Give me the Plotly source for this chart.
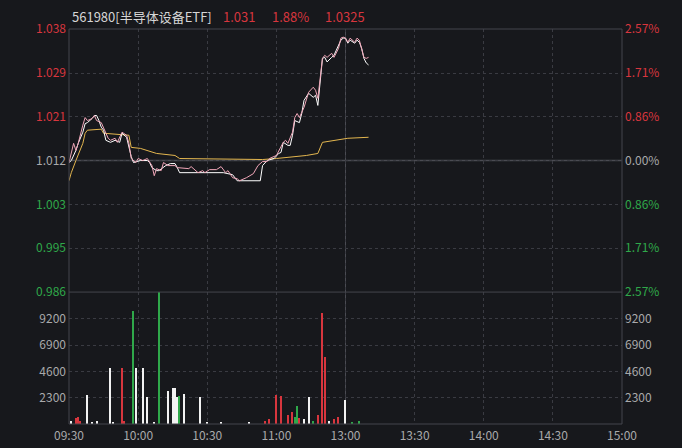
import plotly.graph_objects as go

BG = "#17181c"
GRID = "#3a3b42"
FRAME = "#44454c"
RED = "#d8363e"
GREEN = "#2fa84a"
GRAY = "#a9a9ab"
FONT = "Noto Sans CJK SC"

PREV_CLOSE = 1.012
PCT_TICKS = [-2.57, -1.71, -0.86, 0.0, 0.86, 1.71, 2.57]
VOL_TICKS = [2300, 4600, 6900, 9200]
TIME_LABELS = ["09:30", "10:00", "10:30", "11:00", "13:00", "13:30", "14:00", "14:30", "15:00"]

# price line (white)
price_t = ["09:30", "09:31", "09:33", "09:34", "09:36", "09:37", "09:38", "09:40", "09:41", "09:42",
           "09:43", "09:44", "09:45", "09:46", "09:48", "09:50", "09:52", "09:53", "09:55", "09:56",
           "09:57", "09:58", "10:01", "10:04", "10:05", "10:06", "10:08", "10:09", "10:10", "10:12",
           "10:14", "10:16", "10:17", "10:18", "10:37", "10:39", "10:41", "10:43", "10:53", "10:54",
           "10:56", "10:59", "11:01", "11:02", "11:03", "11:05", "11:06", "11:07", "11:08", "11:10",
           "11:11", "11:12", "11:14", "11:16", "11:17", "11:18", "11:19", "11:20", "11:21", "11:22",
           "11:24", "11:25", "11:26", "11:27", "11:28", "11:29", "11:30", "13:01", "13:02", "13:04",
           "13:05", "13:06", "13:07", "13:08", "13:09", "13:10"]
price_v = [1.0116, 1.0120, 1.0140, 1.0154, 1.0176, 1.0193, 1.0195, 1.0203, 1.0209, 1.0209,
           1.0199, 1.0186, 1.0180, 1.0160, 1.0156, 1.0160, 1.0156, 1.0174, 1.0166, 1.0146,
           1.0128, 1.0116, 1.0120, 1.0120, 1.0116, 1.0106, 1.0100, 1.0100, 1.0104, 1.0110,
           1.0114, 1.0114, 1.0106, 1.0096, 1.0096, 1.0094, 1.0092, 1.0080, 1.0080, 1.0110,
           1.0120, 1.0124, 1.0134, 1.0136, 1.0156, 1.0150, 1.0150, 1.0170, 1.0199, 1.0195,
           1.0213, 1.0239, 1.0253, 1.0245, 1.0249, 1.0229, 1.0269, 1.0322, 1.0324, 1.0315,
           1.0324, 1.0328, 1.0338, 1.0348, 1.0358, 1.0362, 1.0362, 1.0352, 1.0358, 1.0352,
           1.0358, 1.0354, 1.0342, 1.0322, 1.0313, 1.0309]

# second line (pink)
pink_t = ["09:30", "09:31", "09:32", "09:33", "09:34", "09:36", "09:37", "09:38", "09:40", "09:41",
          "09:42", "09:44", "09:45", "09:47", "09:48", "09:50", "09:51", "09:53", "09:55", "09:56",
          "09:57", "09:59", "10:00", "10:02", "10:04", "10:06", "10:07", "10:08", "10:10", "10:11",
          "10:13", "10:16", "10:17", "10:20", "10:22", "10:23", "10:25", "10:26", "10:28", "10:29",
          "10:31", "10:34", "10:36", "10:38", "10:39", "10:41", "10:43", "10:44", "10:47", "10:50",
          "10:52", "10:54", "10:56", "10:57", "11:00", "11:02", "11:03", "11:04", "11:05", "11:07",
          "11:08", "11:09", "11:10", "11:12", "11:14", "11:16", "11:17", "11:18", "11:19", "11:20",
          "11:21", "11:22", "11:24", "11:25", "11:27", "11:28", "11:29", "11:30", "13:01", "13:02",
          "13:04", "13:05", "13:06", "13:07", "13:08", "13:09", "13:10"]
pink_v = [1.0116, 1.0136, 1.0154, 1.0140, 1.0154, 1.0190, 1.0205, 1.0199, 1.0203, 1.0209,
          1.0199, 1.0195, 1.0184, 1.0164, 1.0160, 1.0164, 1.0156, 1.0176, 1.0170, 1.0154,
          1.0124, 1.0116, 1.0124, 1.0120, 1.0124, 1.0110, 1.0090, 1.0104, 1.0100, 1.0116,
          1.0110, 1.0110, 1.0106, 1.0104, 1.0104, 1.0108, 1.0100, 1.0096, 1.0100, 1.0096,
          1.0102, 1.0102, 1.0108, 1.0096, 1.0100, 1.0086, 1.0084, 1.0080, 1.0086, 1.0094,
          1.0110, 1.0118, 1.0118, 1.0124, 1.0130, 1.0146, 1.0156, 1.0160, 1.0154, 1.0176,
          1.0205, 1.0213, 1.0205, 1.0225, 1.0255, 1.0265, 1.0259, 1.0243, 1.0289, 1.0322,
          1.0328, 1.0324, 1.0332, 1.0324, 1.0342, 1.0362, 1.0364, 1.0362, 1.0354, 1.0362,
          1.0354, 1.0362, 1.0358, 1.0342, 1.0324, 1.0322, 1.0324]

# average price (yellow)
avg_t = ["09:30", "09:31", "09:33", "09:36", "09:37", "09:38", "09:44", "09:45", "09:56", "09:57",
         "10:01", "10:04", "10:08", "10:16", "10:18", "10:54", "11:00", "11:13", "11:18", "11:20",
         "13:01", "13:10"]
avg_v = [1.0080, 1.0096, 1.0120, 1.0154, 1.0174, 1.0180, 1.0182, 1.0174, 1.0170, 1.0146,
         1.0144, 1.0140, 1.0134, 1.0130, 1.0124, 1.0122, 1.0124, 1.0130, 1.0134, 1.0156,
         1.0164, 1.0166]

# volume bars
vol_t = ["09:31", "09:33", "09:34", "09:35", "09:38", "09:40", "09:42", "09:48", "09:49", "09:53",
         "09:54", "09:58", "09:59", "10:02", "10:04", "10:07", "10:09", "10:13", "10:15", "10:16",
         "10:17", "10:18", "10:20", "10:27", "10:30", "10:36", "10:48", "10:55", "10:57", "11:00",
         "11:02", "11:05", "11:07", "11:08", "11:09", "11:10", "11:12", "11:14", "11:16", "11:18",
         "11:20", "11:21", "11:23", "11:25", "11:27", "11:30", "13:03", "13:06"]
vol_v = [300, 500, 600, 300, 2540, 200, 300, 4900, 200, 4900,
         300, 9880, 4900, 4900, 2360, 200, 11540, 2890, 3150, 3150,
         2360, 2450, 2620, 2360, 200, 150, 150, 300, 400, 2540,
         2450, 800, 1050, 600, 1570, 500, 400, 2360, 300, 800,
         9710, 5860, 300, 400, 600, 2100, 200, 300]
vol_dir = ["w", "r", "r", "r", "w", "w", "w", "w", "w", "r",
           "r", "g", "w", "w", "w", "w", "g", "w", "w", "w",
           "w", "g", "w", "w", "w", "w", "w", "r", "r", "r",
           "r", "r", "r", "g", "g", "r", "w", "w", "g", "r",
           "r", "r", "w", "r", "r", "w", "g", "g"]


def idx(t):
    h, m = map(int, t.split(":"))
    mins = h * 60 + m
    if mins <= 11 * 60 + 30:
        return mins - (9 * 60 + 30)
    return mins - 13 * 60 + 120


def tone(p):
    return RED if p > 0 else GREEN if p < 0 else GRAY


price_ticks = [PREV_CLOSE * (1 + p / 100) for p in PCT_TICKS]
price_text = [f"<span style='color:{tone(p)}'>{v:.3f}</span>" for p, v in zip(PCT_TICKS, price_ticks)]
pct_text = [f"<span style='color:{tone(p)}'>{abs(p):.2f}%</span>" for p in PCT_TICKS]

bar_colors = {"w": "#f2f2f2", "r": "#d8363e", "g": "#2fa84a"}
vol_x = [idx(t) for t in vol_t]

fig = go.Figure()

fig.add_trace(go.Bar(
    x=vol_x, y=vol_v, width=0.55,
    marker=dict(color=[bar_colors[d] for d in vol_dir], line=dict(width=0)),
    yaxis="y2", hoverinfo="skip",
))
# same bars on the right-hand volume scale, kept invisible (only carries the axis)
fig.add_trace(go.Bar(
    x=vol_x, y=vol_v, width=0.55, opacity=0,
    yaxis="y4", hoverinfo="skip",
))
fig.add_trace(go.Scatter(
    x=[idx(t) for t in avg_t], y=avg_v, mode="lines",
    line=dict(color="#e3b64f", width=1),
))
# pink line drawn on the percentage scale
fig.add_trace(go.Scatter(
    x=[idx(t) for t in pink_t], y=[(v / PREV_CLOSE - 1) * 100 for v in pink_v], mode="lines",
    line=dict(color="#f0a6b8", width=1), yaxis="y3",
))
fig.add_trace(go.Scatter(
    x=[idx(t) for t in price_t], y=price_v, mode="lines",
    line=dict(color="#ffffff", width=1),
))

# solid reference lines: previous close and midday break
fig.add_shape(type="line", xref="paper", x0=0, x1=1, yref="y", y0=PREV_CLOSE, y1=PREV_CLOSE,
              line=dict(color="#4a4b52", width=1.5), layer="below")
fig.add_shape(type="line", xref="x", x0=120, x1=120, yref="paper", y0=0, y1=1,
              line=dict(color="#4a4b52", width=1), layer="below")
fig.add_shape(type="line", xref="paper", x0=0, x1=1, yref="paper", y0=0.334, y1=0.334,
              line=dict(color=FRAME, width=1))
fig.add_shape(type="rect", xref="paper", x0=0, x1=1, yref="paper", y0=0, y1=1,
              line=dict(color=FRAME, width=1))

# header
header = [
    (0.002, "561980[半导体设备ETF]", "#d6d6d6"),
    (0.275, "1.031", RED),
    (0.363, "1.88%", RED),
    (0.459, "1.0325", RED),
]
for x, text, color in header:
    fig.add_annotation(xref="paper", yref="paper", x=x, y=1.031, text=text, showarrow=False,
                       xanchor="left", yanchor="middle", font=dict(color=color, size=13, family=FONT))

axis_common = dict(showline=False, zeroline=False, ticks="", automargin=False,
                   tickfont=dict(size=12, family=FONT, color=GRAY))

fig.update_layout(
    width=682, height=448,
    margin=dict(l=69, r=60, t=29, b=24),
    paper_bgcolor=BG, plot_bgcolor=BG,
    showlegend=False, bargap=0, barmode="overlay",
    font=dict(family=FONT, color=GRAY),
    xaxis=dict(range=[0, 240], tickvals=[idx(t) for t in TIME_LABELS], ticktext=TIME_LABELS,
               anchor="y2", showgrid=True, gridcolor=GRID, griddash="dot",
               ticklabelstandoff=3, **axis_common),
    yaxis=dict(domain=[0.334, 1], range=[price_ticks[0], price_ticks[-1]],
               tickvals=price_ticks, ticktext=price_text, anchor="x", ticklabelstandoff=2,
               showgrid=True, gridcolor=GRID, griddash="dot", **axis_common),
    yaxis3=dict(overlaying="y", side="right", range=[PCT_TICKS[0], PCT_TICKS[-1]],
                tickvals=PCT_TICKS, ticktext=pct_text, anchor="x", ticklabelstandoff=2,
                showgrid=False, **axis_common),
    yaxis2=dict(domain=[0, 0.334], range=[0, 11544], tickvals=VOL_TICKS,
                ticktext=[str(v) for v in VOL_TICKS], anchor="x", ticklabelstandoff=2,
                showgrid=True, gridcolor=GRID, griddash="dot", **axis_common),
    yaxis4=dict(overlaying="y2", side="right", range=[0, 11544], tickvals=VOL_TICKS,
                ticktext=[str(v) for v in VOL_TICKS], anchor="x", ticklabelstandoff=2,
                showgrid=False, **axis_common),
)

fig.write_html("out.html", config={"displayModeBar": False},
               post_script="document.body.style.margin='0';")
